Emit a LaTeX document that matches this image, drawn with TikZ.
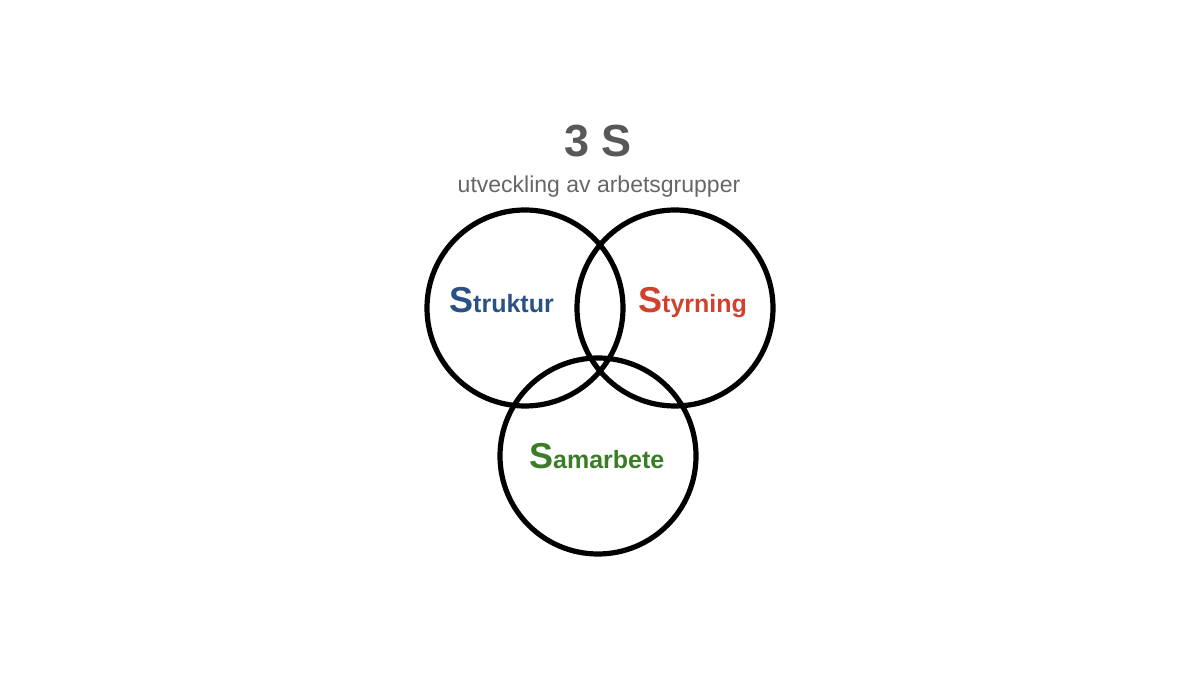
\documentclass[tikz,border=0pt]{standalone}
\usepackage{fontspec}
\setmainfont{Liberation Sans}
\definecolor{titlegray}{HTML}{585858}
\definecolor{subgray}{HTML}{666666}
\definecolor{strukturblue}{HTML}{2A5183}
\definecolor{styrningred}{HTML}{D2402E}
\definecolor{samarbetegreen}{HTML}{3B7D27}
\newcommand{\bigS}{{\fontsize{36}{36}\selectfont S}}
\tikzset{
  ring/.style={
    draw,
    circle,
    line width=5.2pt,
    minimum size=196pt,
    inner sep=0pt
  },
  word/.style={
    anchor=base west,
    inner sep=0pt,
    font=\bfseries\fontsize{25}{25}\selectfont
  }
}
\begin{document}
\begin{tikzpicture}[x=1pt,y=1pt]
  \useasboundingbox (0,0) rectangle (1200,675);
  \node[anchor=base,inner sep=0pt,text=titlegray,font=\bfseries\fontsize{45}{45}\selectfont] (title) at (598,518) {3 S};
  \node[anchor=base,inner sep=0pt,text=subgray,font=\fontsize{23}{23}\selectfont] (subtitle) at (599,482) {utveckling av arbetsgrupper};
  \node[ring] (struktur) at (525,367) {};
  \node[ring] (styrning) at (675,367) {};
  \node[ring] (samarbete) at (598,219) {};
  \node[word,text=strukturblue] (struktur label) at (449,362) {\bigS truktur};
  \node[word,text=styrningred] (styrning label) at (638,362) {\bigS tyrning};
  \node[word,text=samarbetegreen] (samarbete label) at (529,206) {\bigS amarbete};
\end{tikzpicture}
\end{document}
